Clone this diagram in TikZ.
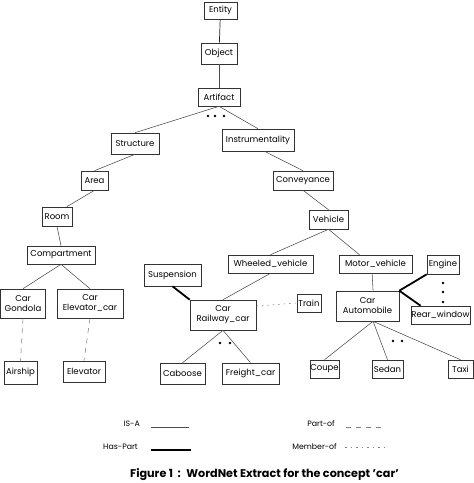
\documentclass[tikz,border=0pt]{standalone}
\usepackage{fontspec}
\setmainfont{Poppins}
\begin{document}
\begin{tikzpicture}[x=1pt,y=-1pt,
  box/.style={draw=black!80,line width=0.6pt,rectangle,inner sep=0pt,font=\fontsize{8.5}{10}\selectfont,align=center},
  isa/.style={draw=black!70,line width=0.55pt},
  haspart/.style={draw=black,line width=1.8pt},
  partof/.style={draw=black!50,line width=0.55pt,dash pattern=on 5pt off 5pt},
  memberof/.style={draw=black!50,line width=0.55pt,dash pattern=on 1.5pt off 4pt},
  dotmark/.style={circle,fill=black,inner sep=0pt,minimum size=2.6pt},
  legtext/.style={font=\fontsize{7.8}{9}\selectfont,anchor=east,inner sep=0pt}]
\useasboundingbox (0,0) rectangle (474,483);
\fill[white] (0,0) rectangle (474,483);
% nodes
\node[box,minimum width=33pt,minimum height=17pt] (ent) at (220.5,10.5) {Entity};
\node[box,minimum width=36pt,minimum height=21pt] (obj) at (219,53.5) {Object};
\node[box,minimum width=42pt,minimum height=18pt] (art) at (219,97) {Artifact};
\node[box,minimum width=48pt,minimum height=21pt] (str) at (135,143.5) {Structure};
\node[box,minimum width=72pt,minimum height=22pt] (ins) at (258,140) {Instrumentality};
\node[box,minimum width=27pt,minimum height=19pt] (area) at (94.5,180.5) {Area};
\node[box,minimum width=60pt,minimum height=19pt] (conv) at (303,180.5) {Conveyance};
\node[box,minimum width=30pt,minimum height=19pt] (room) at (57,216.5) {Room};
\node[box,minimum width=39pt,minimum height=19pt] (veh) at (328.5,219.5) {Vehicle};
\node[box,minimum width=68pt,minimum height=18pt] (comp) at (61,255) {Compartment};
\node[box,minimum width=45pt,minimum height=29pt] (gon) at (23,303.5) {Car\\Gondola};
\node[box,minimum width=66pt,minimum height=29pt] (elc) at (90,303.5) {Car\\Elevator\_car};
\node[box,minimum width=33pt,minimum height=23pt] (air) at (20.5,372.5) {Airship};
\node[box,minimum width=42pt,minimum height=21pt] (elv) at (84,371.5) {Elevator};
\node[box,minimum width=57pt,minimum height=22pt] (sus) at (172.5,275) {Suspension};
\node[box,minimum width=85pt,minimum height=18pt] (whl) at (270.5,264) {Wheeled\_vehicle};
\node[box,minimum width=73pt,minimum height=18pt] (mot) at (375.5,264) {Motor\_vehicle};
\node[box,minimum width=32pt,minimum height=19pt] (eng) at (443,264.5) {Engine};
\node[box,minimum width=66pt,minimum height=30pt] (rail) at (223,315) {Car\\Railway\_car};
\node[box,minimum width=24pt,minimum height=18pt] (trn) at (309,303) {Train};
\node[box,minimum width=63pt,minimum height=30pt] (auto) at (367.5,306) {Car\\Automobile};
\node[box,minimum width=59pt,minimum height=18pt] (rear) at (440.5,315) {Rear\_window};
\node[box,minimum width=45pt,minimum height=21pt] (cab) at (182.5,373.5) {Caboose};
\node[box,minimum width=57pt,minimum height=21pt] (frt) at (250.5,373.5) {Freight\_car};
\node[box,minimum width=29pt,minimum height=18pt] (cpe) at (324.5,369) {Coupe};
\node[box,minimum width=31pt,minimum height=18pt] (sdn) at (387.5,369) {Sedan};
\node[box,minimum width=25pt,minimum height=18pt] (taxi) at (460.5,369) {Taxi};
% IS-A
\draw[isa,draw=black!85,line width=0.7pt] (ent) -- (obj);
\draw[isa] (obj) -- (art);
\draw[isa] (art.south) -- (str.north);
\draw[isa] (art.south) -- (ins.north);
\draw[isa] (str.south) -- (area.north);
\draw[isa] (area.south) -- (room.45);
\draw[isa] (room.south) -- (comp.north);
\draw[isa] (ins.-60) -- (conv.north);
\draw[isa] (conv.south) -- (veh.north);
\draw[isa] (veh.south) -- (whl.north);
\draw[isa] (veh.south) -- (mot.150);
\draw[isa] (comp.south) -- (gon.north);
\draw[isa] (comp.south) -- (elc.north);
\draw[isa] (whl.south) -- (rail.north);
\draw[isa] (rail.south) -- (cab.north);
\draw[isa] (rail.south) -- (frt.north);
\draw[isa] (mot.-110) -- (auto.70);
\draw[isa] (auto.-70) -- (cpe.north);
\draw[isa] (auto.-70) -- (sdn.north);
\draw[isa] (auto.-70) -- (taxi.north);
% Part-of
\draw[partof] (gon.south) -- (air.north);
\draw[partof] (elc.south) -- (elv.north);
% Has-Part
\draw[haspart] (sus.south) -- (rail.north west);
\draw[haspart] (auto.north east) -- (eng.south west);
\draw[haspart] (auto.north east) -- (rear.155);
% Member-of
\draw[memberof] (rail.15) -- (trn.west);
% dots
\node[dotmark] (d1) at (208,116) {};
\node[dotmark] (d2) at (215,116) {};
\node[dotmark] (d3) at (224,116) {};
\node[dotmark] (d4) at (220,343) {};
\node[dotmark] (d5) at (230,343) {};
\node[dotmark] (d6) at (393,341) {};
\node[dotmark] (d7) at (402,341) {};
\node[dotmark] (d8) at (443,283) {};
\node[dotmark] (d9) at (443,292) {};
\node[dotmark] (d10) at (443,302) {};
% legend
\node[legtext] (lisa) at (140,424) {IS-A};
\coordinate (lisa1) at (151,427); \coordinate (lisa2) at (189,427);
\draw[isa] (lisa1) -- (lisa2);
\node[legtext] (lhp) at (138,447) {Has-Part};
\coordinate (lhp1) at (151,450); \coordinate (lhp2) at (191,450);
\draw[haspart,line width=1.5pt] (lhp1) -- (lhp2);
\node[legtext] (lpo) at (335,424) {Part-of};
\coordinate (lpo1) at (346,427); \coordinate (lpo2) at (385,427);
\draw[partof] (lpo1) -- (lpo2);
\node[legtext] (lmo) at (337,447) {Member-of};
\coordinate (lmo1) at (345,447); \coordinate (lmo2) at (385,447);
\draw[memberof] (lmo1) -- (lmo2);
\node[font=\fontsize{11.2}{13}\selectfont\bfseries,inner sep=0pt] (cap) at (264.5,475) {Figure 1 \ : \ WordNet Extract for the concept 'car'};
\end{tikzpicture}
\end{document}
